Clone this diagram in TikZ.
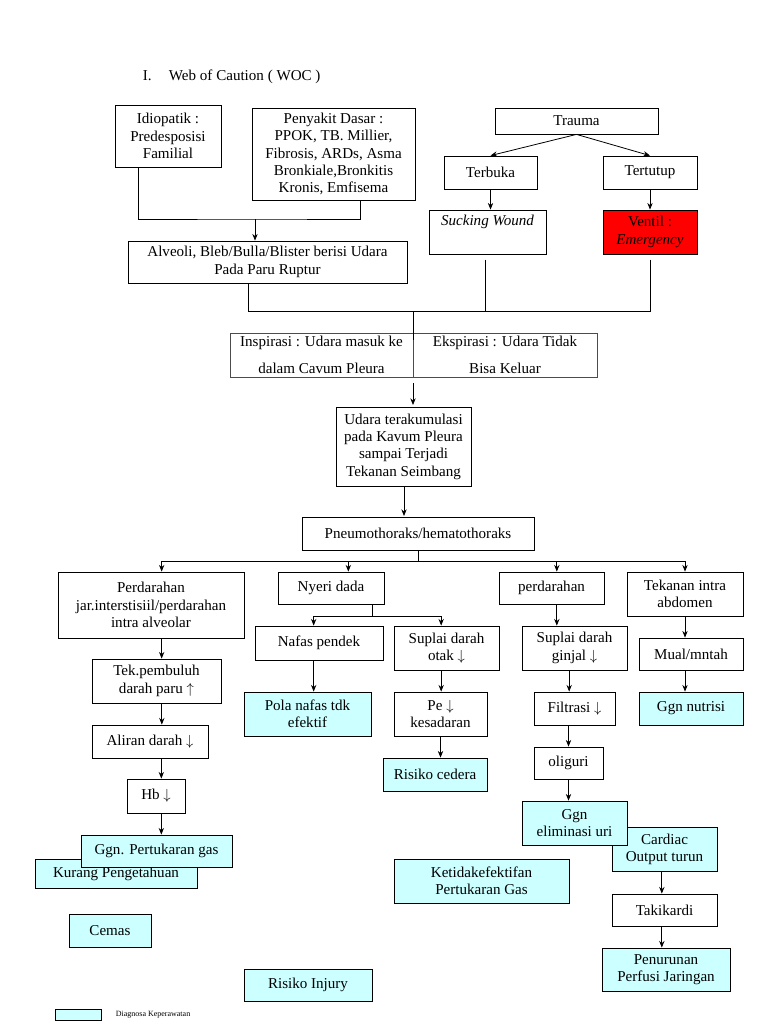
\documentclass[tikz,border=0pt]{standalone}
\usepackage{fontspec}
\setmainfont{Liberation Serif}
\usetikzlibrary{arrows.meta}
\definecolor{dgcyan}{HTML}{CCFFFF}
\begin{document}
\begin{tikzpicture}[x=0.75pt,y=-0.75pt,line width=0.6pt,
  font=\fontsize{11.3}{13}\selectfont,
  box/.style={draw,fill=white,align=center,inner sep=1pt},
  dg/.style={box,fill=dgcyan},
  sz/.style 2 args={minimum width=#1*0.75pt,minimum height=#2*0.75pt},
  arr/.style={-{Stealth[length=5pt,width=4pt]}}]
\useasboundingbox (0,0) rectangle (768,1024);

\node[anchor=west] (ttl) at (138,77) {I.\hspace{13pt}Web of Caution ( WOC )};

% top causes
\node[box,sz={106}{62}] (idio) at (168,136) {Idiopatik :\\Predesposisi\\Familial};
\node[box,sz={163}{92}] (peny) at (333.5,154) {Penyakit Dasar :\\PPOK, TB. Millier,\\Fibrosis, ARDs, Asma\\Bronkiale,Bronkitis\\Kronis, Emfisema};
\node[box,sz={163}{26}] (trau) at (576.5,121) {Trauma};
\node[box,sz={93}{33}] (terb) at (490.5,172.5) {Terbuka};
\node[box,sz={94}{33}] (tert) at (650,172.5) {Tertutup};
\node[box,sz={117}{44}] (suck) at (487.5,232) {\textit{Sucking Wound}\\[4pt]\mbox{}};
\node[box,fill=red,sz={94}{44}] (vent) at (650,232) {Ventil :\\\textit{Emergency}};
\node[box,sz={279}{42}] (alve) at (267.5,262) {Alveoli, Bleb/Bulla/Blister berisi Udara\\Pada Paru Ruptur};

\draw[arr] (trau.south) -- (terb.north);
\draw[arr] (trau.south) -- (tert.north);
\draw[arr] (terb.south) -- (terb.south |- suck.north);
\draw[arr] (tert.south) -- (tert.south |- vent.north);
\coordinate (j1) at (255,219);
\draw ([xshift=-22pt]idio.south) |- (j1) -| ([xshift=20pt]peny.south);
\draw[arr] (j1) -- (j1 |- alve.north);

% inspirasi / ekspirasi
\node[box,draw=black!70,sz={183}{44}] (insp) at (321.5,355) {Inspirasi : Udara masuk ke\\[7pt]dalam Cavum Pleura};
\node[box,draw=black!70,sz={184}{44}] (eksp) at (505,355) {Ekspirasi : Udara Tidak\\[7pt]Bisa Keluar};
\coordinate (j2) at (413,311);
\draw ([xshift=-14pt]alve.south) |- (j2);
\draw ([yshift=-4pt]suck.south -| 485,0) -- (485,311) -- (j2);
\draw ([yshift=-4pt]vent.south) -- (vent.south |- j2) -- (j2);
\draw (j2) -- (413,340);

\node[box,sz={135}{79}] (udar) at (403.5,446.5) {Udara terakumulasi\\pada Kavum Pleura\\sampai Terjadi\\Tekanan Seimbang};
\draw[arr] (413,383) -- (413,405);
\node[box,sz={232}{33}] (pneu) at (418,533.5) {Pneumothoraks/hematothoraks};
\draw[arr] (udar.south -| 404,0) -- (404,516);

% second level
\node[box,sz={186}{66}] (perd) at (151,605) {Perdarahan\\jar.interstisiil/perdarahan\\intra alveolar};
\node[box,sz={106}{32}] (nyer) at (331,588) {Nyeri dada};
\node[box,sz={105}{32}] (perg) at (551.5,588) {perdarahan};
\node[box,sz={116}{44}] (tekab) at (685,594) {Tekanan intra\\abdomen};
\draw (pneu.south) -- ++(0,11) coordinate (bus);
\draw ([xshift=8pt]perd.north |- bus) -- (tekab.north |- bus);
\draw[arr] ([xshift=8pt]perd.north |- bus) -- ([xshift=8pt]perd.north);
\draw[arr] ([xshift=13pt]nyer.north |- bus) -- ([xshift=13pt]nyer.north);
\draw[arr] ([xshift=4pt]perg.north |- bus) -- ([xshift=4pt]perg.north);
\draw[arr] (tekab.north |- bus) -- (tekab.north);

% left chain
\node[box,sz={129}{44}] (tekp) at (156.5,681) {Tek.pembuluh\\darah paru $\uparrow$};
\node[box,sz={116}{33}] (alir) at (150,741.5) {Aliran darah $\downarrow$};
\node[box,sz={58}{34}] (hb) at (156,796) {Hb $\downarrow$};
\node[dg,sz={162}{29}] (kura) at (116,873.5) {Kurang Pengetahuan};
\node[dg,sz={151}{32}] (ggnp) at (156.5,851) {Ggn. Pertukaran gas};
\node[dg,sz={82}{33}] (cema) at (110,930.5) {Cemas};
\draw[arr] ([xshift=8pt]perd.south) -- ([xshift=8pt]perd.south |- tekp.north);
\draw[arr] ([xshift=4pt]tekp.south) -- ([xshift=4pt]tekp.south |- alir.north);
\draw[arr] ([xshift=4pt]hb.north |- alir.south) -- ([xshift=4pt]hb.north);
\draw[arr] ([xshift=4pt]hb.south) -- ([xshift=4pt]hb.south |- ggnp.north);

% nyeri dada chain
\node[box,sz={128}{34}] (nafa) at (319,643) {Nafas pendek};
\node[box,sz={105}{44}] (supo) at (446.5,648) {Suplai darah\\otak $\downarrow$};
\coordinate (j3) at (372,616);
\draw (j3 |- nyer.south) -- (j3);
\draw[arr] (j3) -| ([xshift=-4pt]nafa.north);
\draw[arr] (j3) -| ([xshift=-4pt]supo.north);
\node[dg,sz={127}{44}] (pola) at (307.5,714) {Pola nafas tdk\\efektif};
\node[box,sz={93}{44}] (pesa) at (440.5,714) {Pe $\downarrow$\\kesadaran};
\node[dg,sz={104}{33}] (rice) at (435,774.5) {Risiko cedera};
\draw[arr] ([xshift=-4pt]nafa.south) -- ([xshift=-4pt]nafa.south |- pola.north);
\draw[arr] ([xshift=-4pt]supo.south) -- ([xshift=-4pt]supo.south |- pesa.north);
\draw[arr] (pesa.south) -- (pesa.south |- rice.north);
\node[dg,sz={128}{32}] (rinj) at (308,985) {Risiko Injury};

% perdarahan chain
\node[box,sz={105}{44}] (supg) at (574.5,648) {Suplai darah\\ginjal $\downarrow$};
\node[box,sz={81}{33}] (filt) at (574.5,708.5) {Filtrasi $\downarrow$};
\node[box,sz={69}{32}] (olig) at (568.5,763) {oliguri};
\node[dg,sz={105}{44}] (card) at (664.5,849.5) {Cardiac\\Output turun};
\node[dg,sz={105}{44}] (elim) at (574.5,823) {Ggn\\eliminasi uri};
\node[dg,sz={175}{44}] (keti) at (481.5,881) {Ketidakefektifan\\Pertukaran Gas};
\draw[arr] ([xshift=4pt]perg.south) -- ([xshift=4pt]perg.south |- supg.north);
\draw[arr] ([xshift=-4pt]supg.south) -- ([xshift=-4pt]supg.south |- filt.north);
\draw[arr] (olig.north |- filt.south) -- (olig.north);
\draw[arr] (olig.south) -- (olig.south |- elim.north);
\node[box,sz={105}{32}] (taki) at (664.5,910) {Takikardi};
\node[dg,sz={128}{43}] (penu) at (666,969.5) {Penurunan\\Perfusi Jaringan};
\draw[arr] ([xshift=-2pt]card.south) -- ([xshift=-2pt]card.south |- taki.north);
\draw[arr] ([xshift=-2pt]taki.south) -- ([xshift=-2pt]taki.south |- penu.north);

% abdomen chain
\node[box,sz={104}{32}] (mual) at (691,654) {Mual/mntah};
\node[dg,sz={104}{33}] (nutr) at (691,708.5) {Ggn nutrisi};
\draw[arr] (tekab.south) -- (tekab.south |- mual.north);
\draw[arr] (tekab.south |- mual.south) -- (tekab.south |- nutr.north);

% legend
\node[dg,sz={46}{11}] (leg) at (78,1014.5) {};
\node[anchor=west,font=\fontsize{6}{7}\selectfont] (legt) at (111,1014.5) {Diagnosa Keperawatan};
\end{tikzpicture}
\end{document}
